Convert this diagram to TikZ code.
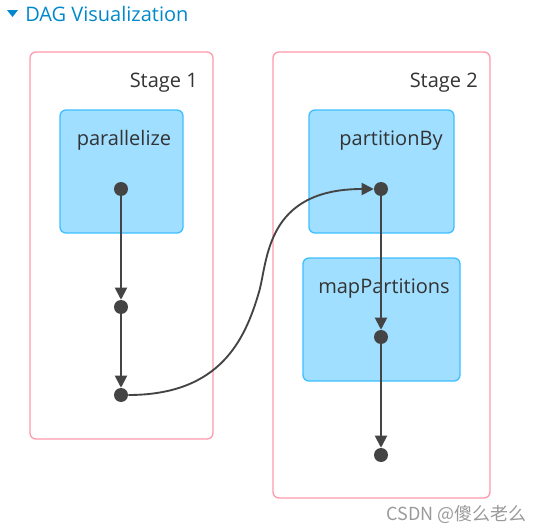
\documentclass[tikz,border=0pt]{standalone}
\usepackage{fontspec}
\setmainfont{Open Sans}
\newfontfamily\cjk{Noto Sans CJK SC}
\usepackage{tikz}
\usetikzlibrary{arrows.meta}
\definecolor{stageline}{HTML}{FF99AC}
\definecolor{rddfill}{HTML}{A0DFFF}
\definecolor{rddline}{HTML}{3EC0FF}
\definecolor{edgecol}{HTML}{444444}
\definecolor{titlecol}{HTML}{0088CC}
\definecolor{textcol}{HTML}{333333}
\definecolor{markcol}{HTML}{9A9A9A}
\tikzset{
  stagebox/.style={draw=stageline,line width=1pt,rounded corners=4.5pt,fill=white,inner sep=0pt},
  rddbox/.style={draw=rddline,line width=1pt,rounded corners=4.5pt,fill=rddfill,inner sep=0pt},
  boxtext/.style={text=textcol,font=\fontsize{15}{17}\selectfont,inner sep=0pt},
  dot/.style={circle,fill=edgecol,inner sep=0pt,minimum size=10.5pt},
  edge/.style={draw=edgecol,line width=1.4pt,-{Triangle[length=9pt,width=9pt]}}
}

\begin{document}
\begin{tikzpicture}[x=0.75pt,y=-0.75pt]
      \useasboundingbox (0,0) rectangle (544,532);
      % title
      \fill[titlecol] (7,10) -- (18,10) -- (12.5,17) -- cycle;
      \node[anchor=base west,text=titlecol,font=\fontsize{15}{17}\selectfont,inner sep=0pt] (title) at (25,21) {DAG Visualization};

      % stage 1
      \node[stagebox,minimum width=137.25pt,minimum height=290.25pt] (stage1) at (121.5,245.5) {};
      \node[boxtext,anchor=base east] (stage1text) at (198,87) {Stage 1};
      \node[rddbox,minimum width=92.25pt,minimum height=92.25pt] (parallelize) at (121.5,171.5) {};
      \node[boxtext,anchor=base] (parallelizetext) at (124,145) {parallelize};

      % stage 2
      \node[stagebox,minimum width=162.75pt,minimum height=334.5pt] (stage2) at (381.5,275) {};
      \node[boxtext,anchor=base east] (stage2text) at (478,87) {Stage 2};
      \node[rddbox,minimum width=108.75pt,minimum height=92.25pt] (partitionBy) at (381.5,171.5) {};
      \node[boxtext,anchor=base] (partitionBytext) at (391,145) {partitionBy};
      \node[rddbox,minimum width=117.75pt,minimum height=92.25pt] (mapPartitions) at (381.5,319.5) {};
      \node[boxtext,anchor=base] (mapPartitionstext) at (384,293) {mapPartitions};

      % dots
      \foreach \x/\y/\n in
      {121/189/p1,121/307/p2,121/395/p3,381/189/q1,381/337/q2,381/455/q3}{
        \node[dot] (\n) at (\x,\y) {};
      }

      % edges
      \coordinate (bend) at (259,292);
      \draw[edge] (p1) -- (p2);
      \draw[edge] (p2) -- (p3);
      \draw[edge] (p3) .. controls (220,395) and (245,340) .. (bend)
                       .. controls (268,261) and (265,189) .. (q1);
      \draw[edge] (q1) -- (q2);
      \draw[edge] (q2) -- (q3);

      % watermark
      \node[anchor=base east,text=markcol,font=\cjk\fontsize{13.5}{15}\selectfont,inner sep=0pt] (mark) at (527,520) {CSDN @傻么老么};
    \end{tikzpicture}
\end{document}
